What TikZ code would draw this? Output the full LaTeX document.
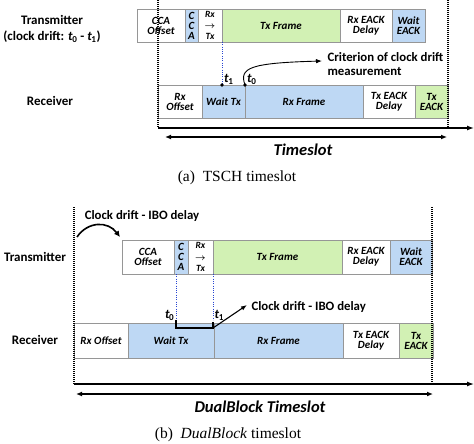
\documentclass[tikz,border=0pt]{standalone}
\usepackage{amsmath}
\usepackage{fontspec}
\setmainfont{Carlito}
\newfontfamily\capfont{Liberation Serif}
\usetikzlibrary{arrows.meta, calc, positioning}

\definecolor{txgreen}{RGB}{210,241,180}
\definecolor{rxblue}{RGB}{190,216,244}
\definecolor{edgegray}{RGB}{150,150,150}
\definecolor{probeblue}{RGB}{40,70,210}

\newcommand{\tsub}[1]{\textit{t}\textsubscript{\kern-0.5pt#1}}

\tikzset{
  slot/.style={draw=edgegray, line width=0.8pt, inner sep=0pt, outer sep=0pt,
    align=center, anchor=west, font=\fontsize{11}{10}\selectfont\bfseries\itshape},
  turn/.style={font=\fontsize{9.5}{11.2}\selectfont\bfseries\itshape},
  border/.style={line width=1.2pt, dash pattern=on 1pt off 1pt},
  probe/.style={probeblue, line width=0.9pt, dash pattern=on 1pt off 1.3pt},
  rowname/.style={font=\fontsize{13}{15}\selectfont\bfseries, align=center},
  note/.style={font=\fontsize{12.8}{14}\selectfont\bfseries, align=left},
  tlabel/.style={font=\fontsize{13}{14}\selectfont\bfseries, inner sep=0.5pt},
  span/.style={line width=1.4pt, {Latex[length=6pt,width=5pt]}-{Latex[length=6pt,width=5pt]}},
  axis/.style={line width=1.3pt, -{Latex[length=7pt,width=5pt]}},
  title/.style={font=\fontsize{16.5}{18}\selectfont\bfseries\itshape},
  caption/.style={font=\capfont\fontsize{15.5}{17}\selectfont},
}

\begin{document}
\begin{tikzpicture}[x=1pt, y=-1pt]
\useasboundingbox (0,0) rectangle (474,444);

% (a) TSCH timeslot
\node[rowname] (txnameA) at (52,20) {Transmitter};
\node[rowname] (driftA) at (52,37) {(clock drift: \tsub{0} - \tsub{1})};
\node[rowname] (rxnameA) at (50,101) {Receiver};

\node[slot, minimum width=48pt, minimum height=33pt] (ccaoffA) at (137,25.5) {CCA\\Offset};
\node[slot, fill=rxblue, minimum width=13pt, minimum height=33pt, right=0pt of ccaoffA] (ccaA) {C\\C\\A};
\node[slot, turn, minimum width=24pt, minimum height=33pt, right=0pt of ccaA] (rxtxA) {Rx\\$\boldsymbol{\rightarrow}$\\Tx};
\node[slot, fill=txgreen, minimum width=118pt, minimum height=33pt, right=0pt of rxtxA] (txframeA) {Tx Frame};
\node[slot, minimum width=52pt, minimum height=33pt, right=0pt of txframeA] (rxeackA) {Rx EACK\\Delay};
\node[slot, fill=rxblue, minimum width=33pt, minimum height=33pt, right=0pt of rxeackA] (waiteackA) {Wait\\EACK};

\node[slot, minimum width=44pt, minimum height=33pt] (rxoffA) at (158,101.5) {Rx\\Offset};
\node[slot, fill=rxblue, minimum width=43pt, minimum height=33pt, right=0pt of rxoffA] (waittxA) {Wait Tx};
\node[slot, fill=rxblue, minimum width=118pt, minimum height=33pt, right=0pt of waittxA] (rxframeA) {Rx Frame};
\node[slot, minimum width=52pt, minimum height=33pt, right=0pt of rxframeA] (txeackA) {Tx EACK\\Delay};
\node[slot, fill=txgreen, minimum width=33pt, minimum height=33pt, right=0pt of txeackA] (txackA) {Tx\\EACK};

\coordinate (axisA) at (158,128);
\coordinate (axisendA) at (474,128);
\draw[border] (rxoffA.west |- 0,0) -- (axisA);
\draw[border] (txackA.east |- 0,0) -- (txackA.east |- axisA);
\draw[axis] (axisA) -- (axisendA);
\coordinate (spanlA) at (165,137);
\coordinate (spanrA) at (447,137);
\draw[span] (spanlA) -- (spanrA);
\node[title] (slotA) at (303,150) {Timeslot};
\node[caption] (capA) at (237,178) {(a)\ \ TSCH timeslot};

\draw[probe] (rxtxA.south east) -- (rxtxA.south east |- waittxA.north) coordinate (t1A);
\coordinate (t0A) at (waittxA.north east);
\fill (t1A) circle (1.8pt);
\fill (t0A) circle (1.8pt);
\node[tlabel, anchor=south west] (lt1A) at ($(t1A)+(1.5,0)$) {\tsub{1}};
\node[tlabel, anchor=south west] (lt0A) at ($(t0A)+(1.5,0)$) {\tsub{0}};
\node[note, anchor=west] (critA) at (324,64) {Criterion of clock drift\\measurement};
\coordinate (crittipA) at (322,61);
\draw[line width=0.9pt, -{Latex[length=6pt,width=4.5pt]}] (t0A) .. controls (239,68) and (249,63) .. (crittipA);

% (b) DualBlock timeslot
\node[rowname] (txnameB) at (35,257) {Transmitter};
\node[rowname] (rxnameB) at (35,340) {Receiver};

\node[slot, minimum width=52pt, minimum height=34pt] (ccaoffB) at (122,257) {CCA\\Offset};
\node[slot, fill=rxblue, minimum width=14pt, minimum height=34pt, right=0pt of ccaoffB] (ccaB) {C\\C\\A};
\node[slot, turn, minimum width=25pt, minimum height=34pt, right=0pt of ccaB] (rxtxB) {Rx\\$\boldsymbol{\rightarrow}$\\Tx};
\node[slot, fill=txgreen, minimum width=129pt, minimum height=34pt, right=0pt of rxtxB] (txframeB) {Tx Frame};
\node[slot, minimum width=48pt, minimum height=34pt, right=0pt of txframeB] (rxeackB) {Rx EACK\\Delay};
\node[slot, fill=rxblue, minimum width=42pt, minimum height=34pt, right=0pt of rxeackB] (waiteackB) {Wait\\EACK};

\node[slot, minimum width=54pt, minimum height=35pt] (rxoffB) at (74,340.5) {Rx Offset};
\node[slot, fill=rxblue, minimum width=86pt, minimum height=35pt, right=0pt of rxoffB] (waittxB) {Wait Tx};
\node[slot, fill=rxblue, minimum width=129pt, minimum height=35pt, right=0pt of waittxB] (rxframeB) {Rx Frame};
\node[slot, minimum width=56pt, minimum height=35pt, right=0pt of rxframeB] (txeackB) {Tx EACK\\Delay};
\node[slot, fill=txgreen, minimum width=34pt, minimum height=35pt, right=0pt of txeackB] (txackB) {Tx\\EACK};

\coordinate (axisB) at (74,384);
\coordinate (axisendB) at (474,384);
\draw[border] (axisB |- 0,207) -- (axisB);
\draw[border] (waiteackB.east |- 0,207) -- (waiteackB.east |- axisB);
\draw[axis] (axisB) -- (axisendB);
\coordinate (spanlB) at (76,394);
\coordinate (spanrB) at (433,394);
\draw[span] (spanlB) -- (spanrB);
\node[title] (slotB) at (260,407) {DualBlock Timeslot};
\node[caption] (capB) at (228,435) {(b)\ \ \textit{DualBlock} timeslot};

\coordinate (driftsB) at (77,237);
\coordinate (drifteB) at (120,237);
\draw[line width=1.6pt, -{Latex[length=6pt,width=6pt]}] (driftsB) .. controls (88,221) and (108,221) .. (drifteB);
\node[note] (iboB) at (142,216) {Clock drift - IBO delay};

\coordinate (t0B) at ($(ccaB.south west |- 0,320)+(2,0)$);
\coordinate (t1B) at (rxtxB.south east |- 0,320);
\draw[probe] (ccaB.south west) ++(2,0) -- (t0B);
\draw[probe] (rxtxB.south east) -- (t1B);
\node[tlabel, anchor=south east] (lt0B) at ($(t0B)+(-1,1)$) {\tsub{0}};
\node[tlabel, anchor=south west] (lt1B) at ($(t1B)+(1,1)$) {\tsub{1}};
\coordinate (kneeB) at ($(t1B)+(0,8)$);
\coordinate (ibotipB) at (247,305);
\draw[line width=1.3pt] (t0B) |- (kneeB) -- ++(0,-6);
\draw[line width=1.1pt, -{Latex[length=6pt,width=4.5pt]}] (kneeB) -- (ibotipB);
\node[note, anchor=west] (iboarrB) at (248,307) {Clock drift - IBO delay};
\end{tikzpicture}
\end{document}
